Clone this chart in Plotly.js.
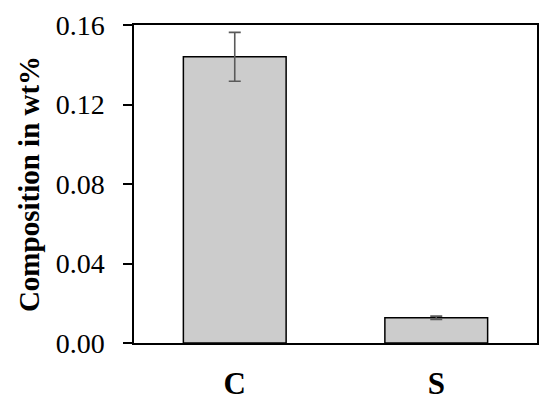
<!DOCTYPE html>
<html>
<head>
<meta charset="utf-8">
<script src="https://cdn.plot.ly/plotly-3.0.1.min.js"></script>
<style>
  html, body { margin: 0; padding: 0; background: #fff; }
  #chart { width: 550px; height: 407px; }
</style>
</head>
<body>
<div id="chart"></div>
<script>
    // composition data
    const elements = ['C', 'S'];
    const composition = [0.1440, 0.0127];
    const compositionErr = [0.0123, 0.0008];
    const yTicks = [0, 0.04, 0.08, 0.12, 0.16];
    const yTickLabels = ['0.00', '0.04', '0.08', '0.12', '0.16'];

    const serif = 'Liberation Serif, DejaVu Serif, serif';

    const trace = {
        x: elements,
        y: composition,
        type: 'bar',
        marker: { color: '#cccccc', line: { color: '#000', width: 1.5 } },
        error_y: {
            type: 'data',
            array: compositionErr,
            visible: true,
            color: '#5a5a5a',
            thickness: 1.6,
            width: 6
        },
        hoverinfo: 'none'
    };

    const layout = {
        width: 550,
        height: 407,
        paper_bgcolor: '#fff',
        plot_bgcolor: '#fff',
        margin: { l: 134, r: 13, t: 25, b: 64 },
        bargap: 0.49,
        showlegend: false,
        xaxis: {
            showline: true,
            mirror: true,
            linecolor: '#000',
            linewidth: 1.5,
            ticks: '',
            tickfont: { family: serif, size: 31, color: '#000', weight: 'bold' },
            ticklabelstandoff: 12
        },
        yaxis: {
            range: [0, 0.16],
            tickvals: yTicks,
            ticktext: yTickLabels,
            showgrid: false,
            zeroline: false,
            showline: true,
            mirror: true,
            linecolor: '#000',
            linewidth: 1.5,
            ticks: 'outside',
            ticklen: 9,
            tickwidth: 1.5,
            tickcolor: '#000',
            tickfont: { family: serif, size: 28, color: '#000' },
            ticklabelstandoff: 13,
            title: {
                text: '<b>Composition in wt%</b>',
                font: { family: serif, size: 29, color: '#000' },
                standoff: 8
            }
        }
    };

    Plotly.newPlot('chart', [trace], layout, { displayModeBar: false, responsive: false });
</script>
</body>
</html>
